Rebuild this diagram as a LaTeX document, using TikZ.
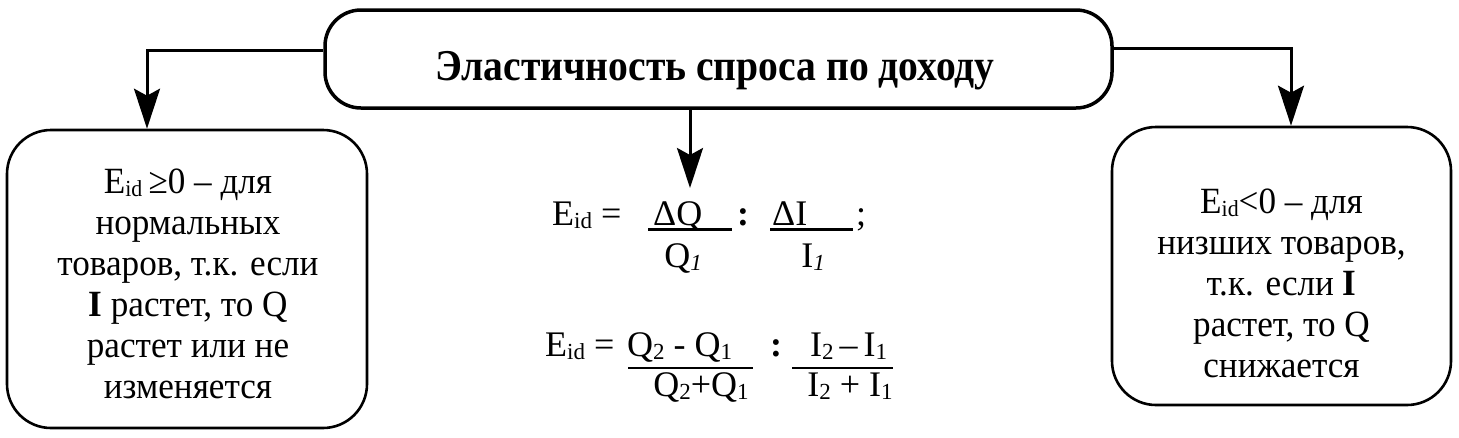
\documentclass[tikz,border=0pt]{standalone}
\usepackage{fontspec}
\setmainfont{Liberation Serif}
\newfontfamily\bodyfont[FakeStretch=0.95]{Liberation Serif}
\newfontfamily\titlefont[FakeStretch=0.9]{Liberation Serif}
\newcommand\lowsub[1]{\raisebox{-3pt}{\fontsize{23}{23}\selectfont #1}}
\usetikzlibrary{arrows.meta}
\begin{document}
\begin{tikzpicture}[x=1pt,y=-1pt,
  boxline/.style={draw, line width=2.6pt, rounded corners=44pt, inner sep=0pt},
  conn/.style={line width=3pt, -{Stealth[length=40pt,width=26pt,inset=7pt]}},
  txt/.style={font=\bodyfont\fontsize{37}{41}\selectfont, align=center, inner sep=0pt},
  ftxt/.style={font=\fontsize{36}{40}\selectfont, inner sep=0pt, anchor=base west},
  bar/.style={line width=2.2pt}]
\useasboundingbox (0,0) rectangle (1459,437);
% top box
\node[draw, line width=3.5pt, rounded corners=36pt, minimum width=787pt, minimum height=98pt, inner sep=0pt] (top) at (718.5,59) {};
\node[inner sep=0pt, anchor=base, font=\titlefont\bfseries\fontsize{44}{50}\selectfont] (title) at (715,80) {Эластичность спроса по доходу};
% left box
\node[boxline, minimum width=360pt, minimum height=298pt] (lbox) at (187,279) {};
\node[txt, anchor=north] (ltext) at (188,169) {E\lowsub{id}\,≥0 – для\\нормальных\\товаров, т.к. если\\\textbf{I} растет, то Q\\растет или не\\изменяется};
% right box
\node[boxline, minimum width=339pt, minimum height=278pt] (rbox) at (1281.5,266) {};
\node[txt, anchor=north] (rtext) at (1281.5,189) {E\lowsub{id}<0 – для\\низших товаров,\\т.к. если \textbf{I}\\растет, то Q\\снижается};
% connectors
\coordinate (ctip) at (690,188);
\draw[conn] ([yshift=9pt]top.west) -| ([xshift=-40pt]lbox.north);
\draw[conn] ([yshift=11pt]top.east) -| ([xshift=9.5pt]rbox.north);
\draw[conn] ([xshift=-28.5pt]top.south) -- (ctip);
% formula 1
\node[ftxt] (e1) at (552,225) {E\lowsub{id} =};
\node[ftxt] (n1) at (653,225) {ΔQ};
\draw[bar] (648,229.5) -- (732,229.5);
\node[ftxt] (c1) at (737,225) {\textbf{:}};
\node[ftxt] (n2) at (772,225) {ΔI};
\draw[bar] (770,229.5) -- (853,229.5);
\node[ftxt] (s1) at (856,225) {;};
\node[ftxt, anchor=base] (d1) at (683,267) {Q\lowsub{\textit{1}}};
\node[ftxt, anchor=base] (d2) at (813,267) {I\lowsub{\textit{1}}};
% formula 2
\node[ftxt] (e2) at (545,356) {E\lowsub{id} =};
\node[ftxt] (n3) at (627,356) {Q\lowsub{2} - Q\lowsub{1}};
\draw[bar] (628,368) -- (753,368);
\node[ftxt] (c2) at (770,356) {\textbf{:}};
\node[ftxt] (n4) at (810,356) {I\lowsub{2}\,–\,I\lowsub{1}};
\draw[bar] (792,368) -- (893,368);
\node[ftxt, anchor=base] (d3) at (701,396) {Q\lowsub{2}+Q\lowsub{1}};
\node[ftxt, anchor=base] (d4) at (850,396) {I\lowsub{2} + I\lowsub{1}};
\end{tikzpicture}
\end{document}
